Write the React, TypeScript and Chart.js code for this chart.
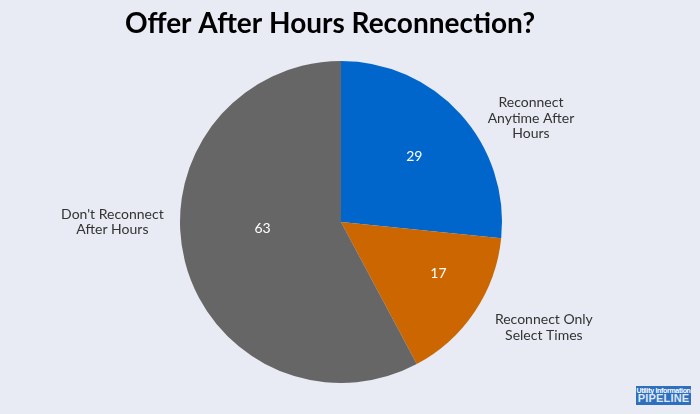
import React, { useEffect, useRef } from "react";
import { Chart, registerables } from "chart.js";

Chart.register(...registerables);

const categories = ["Reconnect Anytime After Hours", "Reconnect Only Select Times", "Don't Reconnect After Hours"];
const labelLines = [["Reconnect", "Anytime After", "Hours"], ["Reconnect Only", "Select Times"], ["Don't Reconnect", "After Hours"]];
const values = [29, 17, 63];
const colors = ["#0066cc", "#cc6600", "#666666"];
const titleText = "Offer After Hours Reconnection?";

// label placement (style): offsets relative to pie center, in units of radius
const valueOffsets = [[0.455, -0.405], [0.605, 0.32], [-0.487, 0.038]];
const outerOffsets = [[1.18, -0.645], [1.26, 0.655], [-1.42, 0.0]];

const labelPlugin = {
  id: "customLabels",
  afterDraw(chart: any) {
    const ctx = chart.ctx;
    const meta = chart.getDatasetMeta(0);
    const arc0 = meta.data[0];
    const cx = arc0.x, cy = arc0.y, r = arc0.outerRadius;
    ctx.save();
    // title
    ctx.fillStyle = "#000";
    ctx.font = "bold 28px Lato, 'Noto Sans', sans-serif";
    ctx.textAlign = "center";
    ctx.textBaseline = "middle";
    ctx.fillText(titleText, 330, 24);
    // values
    ctx.font = "14px Lato, 'Noto Sans', sans-serif";
    ctx.fillStyle = "#ffffff";
    values.forEach((v, i) => {
      const [dx, dy] = valueOffsets[i];
      ctx.fillText(String(v), cx + dx * r, cy + dy * r);
    });
    // outside labels
    ctx.fillStyle = "#333333";
    ctx.font = "14px Lato, 'Noto Sans', sans-serif";
    labelLines.forEach((lines, i) => {
      const [dx, dy] = outerOffsets[i];
      const lx = cx + dx * r;
      const ly = cy + dy * r;
      const lh = 15.5;
      const start = ly - ((lines.length - 1) * lh) / 2;
      lines.forEach((t, j) => ctx.fillText(t, lx, start + j * lh));
    });
    ctx.restore();
  },
};

export default function App() {
  const ref = useRef<HTMLCanvasElement>(null);
  useEffect(() => {
    document.body.style.margin = "0";
    const chart = new Chart(ref.current!, {
      type: "pie",
      data: {
        labels: categories,
        datasets: [{ data: values, backgroundColor: colors, borderWidth: 0 }],
      },
      options: {
        animation: false,
        responsive: false,
        layout: { padding: { left: 180, right: 198, top: 61, bottom: 31 } },
        plugins: { legend: { display: false }, tooltip: { enabled: false }, title: { display: false } },
      },
      plugins: [labelPlugin],
    });
    return () => chart.destroy();
  }, []);
  return (
    <div style={{ position: "relative", width: 700, height: 414, background: "#e8ebf4" }}>
      <canvas ref={ref} width={700} height={414} style={{ display: "block" }} />
      <div
        style={{
          position: "absolute",
          left: 636,
          top: 386,
          width: 55,
          height: 19,
          background: "#2f6fc0",
          color: "#fff",
          fontFamily: "'Liberation Sans', sans-serif",
          textAlign: "center",
          lineHeight: 1,
          overflow: "hidden",
          whiteSpace: "nowrap",
        }}
      >
        <div style={{ fontSize: 7, fontWeight: "bold", marginTop: 1, letterSpacing: -0.3 }}>Utility Information</div>
        <div style={{ fontSize: 11, fontWeight: "bold", letterSpacing: 0.2, color: "#dfe8f5", marginTop: -1 }}>PIPELINE</div>
      </div>
    </div>
  );
}
